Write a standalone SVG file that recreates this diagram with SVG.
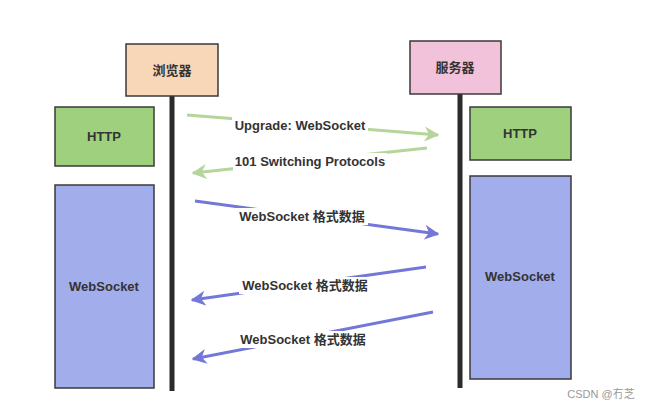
<svg xmlns="http://www.w3.org/2000/svg" width="649" height="410" viewBox="0 0 649 410">
<style>
text{font-family:"Liberation Sans","Noto Sans CJK SC",sans-serif;font-size:13px;fill:#333;text-anchor:middle;font-weight:bold}
.box{stroke:#3a3a3a;stroke-width:1.5}
.life{stroke:#2b2b2b;stroke-width:5}
.g{stroke:#b5d59b;stroke-width:3;fill:none}
.b{stroke:#7378d8;stroke-width:3;fill:none}
.lbl{fill:#fff;stroke:none}
</style>
<defs>
<marker id="ag" viewBox="0 0 10 10" refX="9" refY="5" markerWidth="5" markerHeight="5" orient="auto" markerUnits="strokeWidth"><path d="M0,0L10,5L0,10L3,5z" fill="#b5d59b"/></marker>
<marker id="ab" viewBox="0 0 10 10" refX="9" refY="5" markerWidth="5" markerHeight="5" orient="auto" markerUnits="strokeWidth"><path d="M0,0L10,5L0,10L3,5z" fill="#7378d8"/></marker>
</defs>
<rect width="649" height="410" fill="#fff"/>
<g id="lifelines">
<line class="life" x1="172" y1="96" x2="172" y2="391"/>
<line class="life" x1="460" y1="94" x2="460" y2="388"/>
</g>
<g id="browser"><rect class="box" x="126" y="44" width="92" height="52" fill="#f8d6b8"/><text x="172" y="75">浏览器</text></g>
<g id="server"><rect class="box" x="410" y="41" width="91" height="53" fill="#f2c2da"/><text x="455" y="72">服务器</text></g>
<g id="http-left"><rect class="box" x="55" y="107" width="99" height="59" fill="#9fd07d"/><text x="104" y="141">HTTP</text></g>
<g id="ws-left"><rect class="box" x="55" y="185" width="99" height="203" fill="#a2adec"/><text x="104" y="291">WebSocket</text></g>
<g id="http-right"><rect class="box" x="470" y="107" width="101" height="53" fill="#9fd07d"/><text x="520" y="138">HTTP</text></g>
<g id="ws-right"><rect class="box" x="470" y="176" width="101" height="203" fill="#a2adec"/><text x="520" y="281">WebSocket</text></g>
<g id="connectors">
<line class="g" x1="187" y1="115" x2="438" y2="135" marker-end="url(#ag)"/>
<line class="g" x1="427" y1="148" x2="193" y2="173" marker-end="url(#ag)"/>
<line class="b" x1="195" y1="201" x2="438" y2="234" marker-end="url(#ab)"/>
<line class="b" x1="426" y1="267" x2="192" y2="300" marker-end="url(#ab)"/>
<line class="b" x1="433" y1="312" x2="193" y2="359" marker-end="url(#ab)"/>
<rect class="lbl" x="232" y="117" width="136" height="17"/>
<text x="300" y="130">Upgrade: WebSocket</text>
<rect class="lbl" x="233" y="153" width="154" height="17"/>
<text x="310" y="166">101 Switching Protocols</text>
<rect class="lbl" x="236" y="208" width="132" height="17"/>
<text x="302" y="221">WebSocket 格式数据</text>
<rect class="lbl" x="239" y="277" width="132" height="17"/>
<text x="305" y="290">WebSocket 格式数据</text>
<rect class="lbl" x="237" y="331" width="132" height="17"/>
<text x="303" y="344">WebSocket 格式数据</text>
</g>
<text x="601" y="398" style="font-size:11px;fill:#999;font-weight:normal">CSDN @冇芝</text>
</svg>
